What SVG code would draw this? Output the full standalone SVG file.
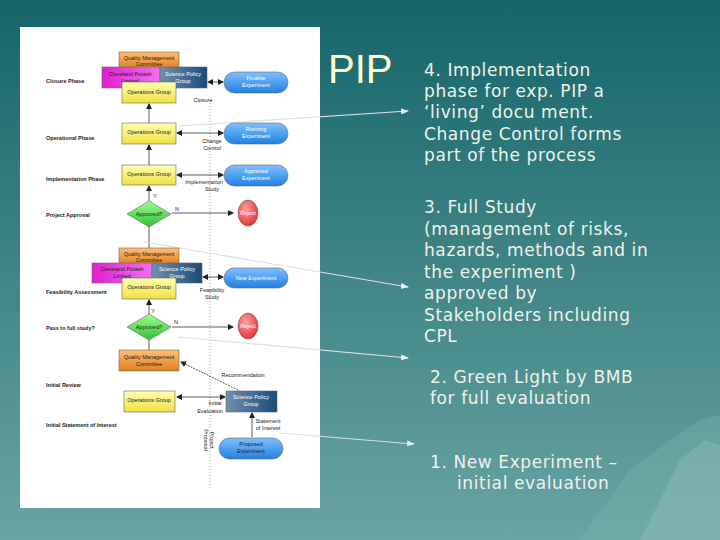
<svg xmlns="http://www.w3.org/2000/svg" width="720" height="540" viewBox="0 0 720 540">
<defs>
<linearGradient id="bg" x1="0" y1="0" x2="0" y2="1"><stop offset="0" stop-color="#15656a"/><stop offset="1" stop-color="#6aa4a4"/></linearGradient>
<linearGradient id="yel" x1="0" y1="0" x2="0" y2="1"><stop offset="0" stop-color="#ffffb0"/><stop offset="1" stop-color="#f0e040"/></linearGradient>
<linearGradient id="org" x1="0" y1="0" x2="0" y2="1"><stop offset="0" stop-color="#ffc070"/><stop offset="1" stop-color="#e08020"/></linearGradient>
<linearGradient id="mag" x1="0" y1="0" x2="1" y2="0"><stop offset="0" stop-color="#e020d0"/><stop offset="1" stop-color="#f070f0"/></linearGradient>
<linearGradient id="dbl" x1="0" y1="0" x2="1" y2="0"><stop offset="0" stop-color="#7090b0"/><stop offset="1" stop-color="#1a4a7a"/></linearGradient>
<linearGradient id="pill" x1="0" y1="0" x2="0" y2="1"><stop offset="0" stop-color="#80c0ff"/><stop offset="1" stop-color="#2080e0"/></linearGradient>
<radialGradient id="red" cx="0.4" cy="0.35" r="0.7"><stop offset="0" stop-color="#ffa0a0"/><stop offset="1" stop-color="#e03030"/></radialGradient>
<linearGradient id="grn" x1="0" y1="0" x2="0" y2="1"><stop offset="0" stop-color="#a0ff90"/><stop offset="1" stop-color="#30c030"/></linearGradient>
<marker id="a" markerWidth="6" markerHeight="6" refX="5" refY="3" orient="auto-start-reverse" markerUnits="userSpaceOnUse"><path d="M0,0 L6,3 L0,6 z" fill="#222"/></marker>
<marker id="w" markerWidth="8" markerHeight="6" refX="7" refY="3" orient="auto" markerUnits="userSpaceOnUse"><path d="M0,0 L8,3 L0,6 z" fill="#eef"/></marker>
</defs>
<style>
.b{stroke:#666;stroke-width:0.6}
.t{font-family:"Liberation Sans",Arial,sans-serif;font-size:5.5px;fill:#222;text-anchor:middle}
.tw{font-family:"Liberation Sans",Arial,sans-serif;font-size:5.5px;fill:#fff;text-anchor:middle}
.ph{font-family:"Liberation Sans",Arial,sans-serif;font-size:5.5px;font-weight:bold;fill:#222}
.c{stroke:#333;stroke-width:0.8;fill:none}
.r{font-family:"DejaVu Sans",Verdana,sans-serif;font-size:17px;letter-spacing:0.6px;fill:#eef2e8}
.pl{stroke:#dde;stroke-width:1.2;fill:none}
</style>
<rect width="720" height="540" fill="url(#bg)"/>
<path d="M580,540 L630,470 L670,440 L700,420 L720,415 L720,540 Z" fill="#7fb4b0" opacity="0.35"/>
<path d="M640,540 L680,460 L705,440 L720,445 L720,540 Z" fill="#9cc8c4" opacity="0.3"/>
<rect x="20" y="27" width="300" height="481" fill="#fff"/>
<text x="328" y="83" font-family="Liberation Sans,Arial,sans-serif" font-size="40" fill="#ffffcc">PIP</text>
<g id="labels">
<text class="ph" x="46" y="83">Closure Phase</text>
<text class="ph" x="46" y="140">Operational Phase</text>
<text class="ph" x="46" y="181">Implementation Phase</text>
<text class="ph" x="46" y="217">Project Approval</text>
<text class="ph" x="46" y="294">Feasibility Assessment</text>
<text class="ph" x="46" y="330">Pass to full study?</text>
<text class="ph" x="46" y="387">Initial Review</text>
<text class="ph" x="46" y="427">Initial Statement of Interest</text>
</g>
<g id="connectors">
<line x1="210" y1="100" x2="210" y2="490" stroke="#555" stroke-width="0.6" stroke-dasharray="1,2"/>
<line class="c" x1="149" y1="123" x2="149" y2="104" marker-end="url(#a)"/>
<line class="c" x1="149" y1="165" x2="149" y2="145" marker-end="url(#a)"/>
<line class="c" x1="149" y1="201" x2="149" y2="186" marker-end="url(#a)"/>
<line class="c" x1="149" y1="227" x2="149" y2="248"/>
<line class="c" x1="149" y1="314" x2="149" y2="300" marker-end="url(#a)"/>
<line class="c" x1="149" y1="340" x2="149" y2="350"/>
<line class="c" x1="172" y1="213" x2="233" y2="213" marker-end="url(#a)"/>
<line class="c" x1="172" y1="327" x2="233" y2="327" marker-end="url(#a)"/>
<line class="c" x1="208" y1="82" x2="223" y2="82" marker-start="url(#a)" marker-end="url(#a)"/>
<line class="c" x1="177" y1="133" x2="223" y2="133" marker-start="url(#a)" marker-end="url(#a)"/>
<line class="c" x1="177" y1="175" x2="223" y2="175" marker-start="url(#a)" marker-end="url(#a)"/>
<line class="c" x1="203" y1="277" x2="223" y2="277" marker-start="url(#a)" marker-end="url(#a)"/>
<line class="c" x1="177" y1="397" x2="225" y2="397" marker-start="url(#a)" marker-end="url(#a)"/>
<line class="c" x1="238" y1="390" x2="181" y2="362" stroke-dasharray="2,1" marker-end="url(#a)"/>
<line class="c" x1="252" y1="437" x2="252" y2="413" marker-end="url(#a)"/>
<text class="t" x="203" y="102">Closure</text>
<text class="t" x="212" y="143">Change</text><text class="t" x="212" y="150">Control</text>
<text class="t" x="204" y="184">Implementation</text><text class="t" x="212" y="191">Study</text>
<text class="t" x="155" y="198">Y</text><text class="t" x="177" y="211">N</text>
<text class="t" x="212" y="292">Feasibility</text><text class="t" x="212" y="299">Study</text>
<text class="t" x="153" y="313">Y</text><text class="t" x="176" y="324">N</text>
<text class="t" x="243" y="377">Recommendation</text>
<text class="t" x="215" y="405">Initial</text><text class="t" x="210" y="413">Evaluation</text>
<text class="t" x="268" y="423">Statement</text><text class="t" x="268" y="430">of Interest</text>
<text class="t" transform="translate(210,440) rotate(90)">Project</text>
<text class="t" transform="translate(204,440) rotate(90)">Proposal</text>
<line class="pl" x1="178" y1="126" x2="408" y2="111" marker-end="url(#w)"/>
<line class="pl" x1="144" y1="242" x2="408" y2="287" marker-end="url(#w)"/>
<line class="pl" x1="178" y1="337" x2="408" y2="358" marker-end="url(#w)"/>
<line class="pl" x1="280" y1="433" x2="414" y2="444" marker-end="url(#w)"/>
</g>
<g id="closure">
<rect class="b" x="119" y="52" width="60" height="16" fill="url(#org)"/><text class="t" x="149" y="60">Quality Management</text><text class="t" x="149" y="66">Committee</text>
<rect class="b" x="102" y="67" width="58" height="21" fill="url(#mag)"/><text class="t" x="130" y="76">Cleveland Potash</text><text class="t" x="130" y="83">Limited</text>
<rect class="b" x="160" y="67" width="47" height="21" fill="url(#dbl)"/><text class="tw" x="183" y="76">Science Policy</text><text class="tw" x="183" y="83">Group</text>
<rect class="b" x="122" y="82" width="54" height="21" fill="url(#yel)"/><text class="t" x="149" y="94">Operations Group</text>
<rect class="b" x="224" y="72" width="64" height="21" rx="10.5" fill="url(#pill)"/><text class="tw" x="256" y="80">Finalise</text><text class="tw" x="256" y="87">Experiment</text>
</g>
<g id="operational">
<rect class="b" x="122" y="123" width="54" height="21" fill="url(#yel)"/><text class="t" x="149" y="134">Operations Group</text>
<rect class="b" x="224" y="123" width="64" height="21" rx="10.5" fill="url(#pill)"/><text class="tw" x="256" y="131">Running</text><text class="tw" x="256" y="138">Experiment</text>
</g>
<g id="implementation">
<rect class="b" x="122" y="165" width="54" height="20" fill="url(#yel)"/><text class="t" x="149" y="176">Operations Group</text>
<rect class="b" x="224" y="165" width="64" height="21" rx="10.5" fill="url(#pill)"/><text class="tw" x="256" y="173">Approved</text><text class="tw" x="256" y="180">Experiment</text>
</g>
<g id="approval1">
<polygon class="b" points="149,201 171,214 149,227 127,214" fill="url(#grn)"/><text class="t" x="149" y="216">Approved?</text>
<ellipse class="b" cx="248" cy="213" rx="10" ry="13" fill="url(#red)"/><text class="tw" x="248" y="215">Reject</text>
</g>
<g id="feasibility">
<rect class="b" x="119" y="248" width="60" height="16" fill="url(#org)"/><text class="t" x="149" y="256">Quality Management</text><text class="t" x="149" y="262">Committee</text>
<rect class="b" x="92" y="263" width="60" height="20" fill="url(#mag)"/><text class="t" x="122" y="271">Cleveland Potash</text><text class="t" x="122" y="278">Limited</text>
<rect class="b" x="152" y="263" width="50" height="20" fill="url(#dbl)"/><text class="tw" x="177" y="271">Science Policy</text><text class="tw" x="177" y="278">Group</text>
<rect class="b" x="122" y="278" width="54" height="21" fill="url(#yel)"/><text class="t" x="149" y="289">Operations Group</text>
<rect class="b" x="224" y="268" width="64" height="20" rx="10" fill="url(#pill)"/><text class="tw" x="256" y="280">New Experiment</text>
</g>
<g id="approval2">
<polygon class="b" points="149,314 171,327 149,340 127,327" fill="url(#grn)"/><text class="t" x="149" y="329">Approved?</text>
<ellipse class="b" cx="248" cy="326" rx="10" ry="13" fill="url(#red)"/><text class="tw" x="248" y="328">Reject</text>
</g>
<g id="review">
<rect class="b" x="119" y="350" width="60" height="21" fill="url(#org)"/><text class="t" x="149" y="359">Quality Management</text><text class="t" x="149" y="366">Committee</text>
<rect class="b" x="124" y="391" width="51" height="21" fill="url(#yel)"/><text class="t" x="149" y="402">Operations Group</text>
<rect class="b" x="226" y="391" width="51" height="21" fill="url(#dbl)"/><text class="tw" x="251" y="399">Science Policy</text><text class="tw" x="251" y="406">Group</text>
<rect class="b" x="219" y="438" width="64" height="21" rx="10.5" fill="url(#pill)"/><text class="t" x="251" y="446">Proposed</text><text class="t" x="251" y="453">Experiment</text>
</g>
<g id="notes">
<text class="r" x="424" y="76">4.  Implementation</text>
<text class="r" x="424" y="97">phase for exp. PIP a</text>
<text class="r" x="424" y="118">‘living’ docu ment.</text>
<text class="r" x="424" y="140">Change Control forms</text>
<text class="r" x="424" y="161">part of the process</text>
<text class="r" x="424" y="213">3. Full Study</text>
<text class="r" x="424" y="235">(management of risks,</text>
<text class="r" x="424" y="256">hazards, methods and in</text>
<text class="r" x="424" y="278">the experiment )</text>
<text class="r" x="424" y="299">approved by</text>
<text class="r" x="424" y="321">Stakeholders including</text>
<text class="r" x="424" y="342">CPL</text>
<text class="r" x="430" y="383">2. Green Light by BMB</text>
<text class="r" x="430" y="404">for full evaluation</text>
<text class="r" x="430" y="468">1.  New Experiment –</text>
<text class="r" x="457" y="489">initial evaluation</text>
</g>
</svg>
